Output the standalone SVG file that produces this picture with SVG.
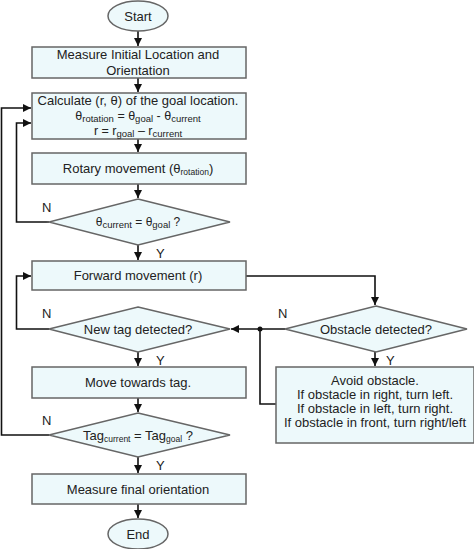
<svg xmlns="http://www.w3.org/2000/svg" width="474" height="549" viewBox="0 0 474 549">
<defs>
<marker id="ah" markerUnits="userSpaceOnUse" markerWidth="9" markerHeight="8" refX="8" refY="4" orient="auto">
<path d="M0,0 L8,4 L0,8 z" fill="#111"/>
</marker>
<style>
.box{fill:#edf9fb;stroke:#666;stroke-width:1.5}
.t{font-family:"Liberation Sans",Arial,sans-serif;font-size:13px;fill:#222;text-anchor:middle}
.s{font-size:12.5px}
.sub{font-size:9.5px}
.sub2{font-size:8.5px}
.lbl{font-family:"Liberation Sans",Arial,sans-serif;font-size:13px;fill:#222}
.c{fill:none;stroke:#111;stroke-width:1.6}
.a{marker-end:url(#ah)}
</style>
</defs>
<rect width="474" height="549" fill="#fff"/>
<g id="connectors">
<line class="c a" x1="138" y1="31" x2="138" y2="46"/>
<line class="c a" x1="138" y1="78" x2="138" y2="92"/>
<line class="c a" x1="138" y1="139" x2="138" y2="152"/>
<line class="c a" x1="138" y1="184" x2="138" y2="198"/>
<line class="c a" x1="138" y1="245" x2="138" y2="260"/>
<polyline class="c a" points="49,222 16.5,222 16.5,123 31,123"/>
<polyline class="c a" points="246,276 375,276 375,305"/>
<line class="c a" x1="285" y1="329" x2="231" y2="329"/>
<polyline class="c" points="276,404 260,404 260,329"/>
<circle cx="260" cy="329" r="2.5" fill="#111"/>
<polyline class="c a" points="49,329 16.5,329 16.5,276 31,276"/>
<line class="c a" x1="138" y1="352" x2="138" y2="366"/>
<line class="c a" x1="375" y1="352" x2="375" y2="366"/>
<line class="c a" x1="138" y1="398" x2="138" y2="412"/>
<polyline class="c a" points="49,435 1.5,435 1.5,108 31,108"/>
<line class="c a" x1="138" y1="457" x2="138" y2="473"/>
<line class="c a" x1="138" y1="504" x2="138" y2="518"/>
<text class="lbl" x="42" y="212">N</text>
<text class="lbl" x="156" y="258">Y</text>
<text class="lbl" x="42" y="318">N</text>
<text class="lbl" x="278" y="318">N</text>
<text class="lbl" x="156" y="365">Y</text>
<text class="lbl" x="386" y="365">Y</text>
<text class="lbl" x="42" y="425">N</text>
<text class="lbl" x="156" y="470">Y</text>
</g>
<g id="start">
<ellipse class="box" cx="138" cy="16" rx="30" ry="15"/>
<text class="t" x="138" y="20.5">Start</text>
</g>
<g id="measure-initial">
<rect class="box" x="32" y="47" width="214" height="31"/>
<text class="t" x="138" y="58.5">Measure Initial Location and</text>
<text class="t" x="138" y="74.5">Orientation</text>
</g>
<g id="calculate">
<rect class="box" x="32" y="93" width="214" height="46"/>
<text class="t" x="138" y="105">Calculate (r, θ) of the goal location.</text>
<text class="t s" x="138" y="120">θ<tspan class="sub" dy="2">rotation</tspan><tspan dy="-2"> = θ</tspan><tspan class="sub" dy="2">goal</tspan><tspan dy="-2"> - θ</tspan><tspan class="sub" dy="2">current</tspan></text>
<text class="t s" x="138" y="134.5">r = r<tspan class="sub" dy="2">goal</tspan><tspan dy="-2"> – r</tspan><tspan class="sub" dy="2">current</tspan></text>
</g>
<g id="rotary">
<rect class="box" x="32" y="153" width="214" height="31"/>
<text class="t" x="138" y="173">Rotary movement (θ<tspan class="sub2" dy="2">rotation</tspan><tspan dy="-2">)</tspan></text>
</g>
<g id="theta-check">
<polygon class="box" points="138,199 230,222 138,245 49,222"/>
<text class="t" x="138" y="226" style="font-size:12px">θ<tspan class="sub" dy="2">current</tspan><tspan dy="-2"> = θ</tspan><tspan class="sub" dy="2">goal</tspan><tspan dy="-2"> ?</tspan></text>
</g>
<g id="forward">
<rect class="box" x="32" y="261" width="214" height="29"/>
<text class="t" x="138" y="280">Forward movement (r)</text>
</g>
<g id="new-tag">
<polygon class="box" points="138,307 230,329 138,352 49,329"/>
<text class="t" x="138" y="333.5">New tag detected?</text>
</g>
<g id="obstacle">
<polygon class="box" points="376,306 467,329 376,352 285,329"/>
<text class="t" x="376" y="333.5">Obstacle detected?</text>
</g>
<g id="move-tag">
<rect class="box" x="32" y="367" width="214" height="31"/>
<text class="t" x="138" y="387">Move towards tag.</text>
</g>
<g id="avoid">
<rect class="box" x="276" y="367" width="198" height="76"/>
<text class="t" x="375" y="385">Avoid obstacle.</text>
<text class="t" x="375" y="399">If obstacle in right, turn left.</text>
<text class="t" x="375" y="413">If obstacle in left, turn right.</text>
<text class="t" x="375" y="427">If obstacle in front, turn right/left</text>
</g>
<g id="tag-check">
<polygon class="box" points="138,413 230,435 138,457 49,435"/>
<text class="t" x="138" y="439.5">Tag<tspan class="sub2" dy="2">current</tspan><tspan dy="-2"> = Tag</tspan><tspan class="sub2" dy="2">goal</tspan><tspan dy="-2"> ?</tspan></text>
</g>
<g id="measure-final">
<rect class="box" x="32" y="474" width="214" height="30"/>
<text class="t" x="138" y="493.5">Measure final orientation</text>
</g>
<g id="end">
<ellipse class="box" cx="138" cy="534" rx="30" ry="15"/>
<text class="t" x="138" y="538.5">End</text>
</g>
</svg>
